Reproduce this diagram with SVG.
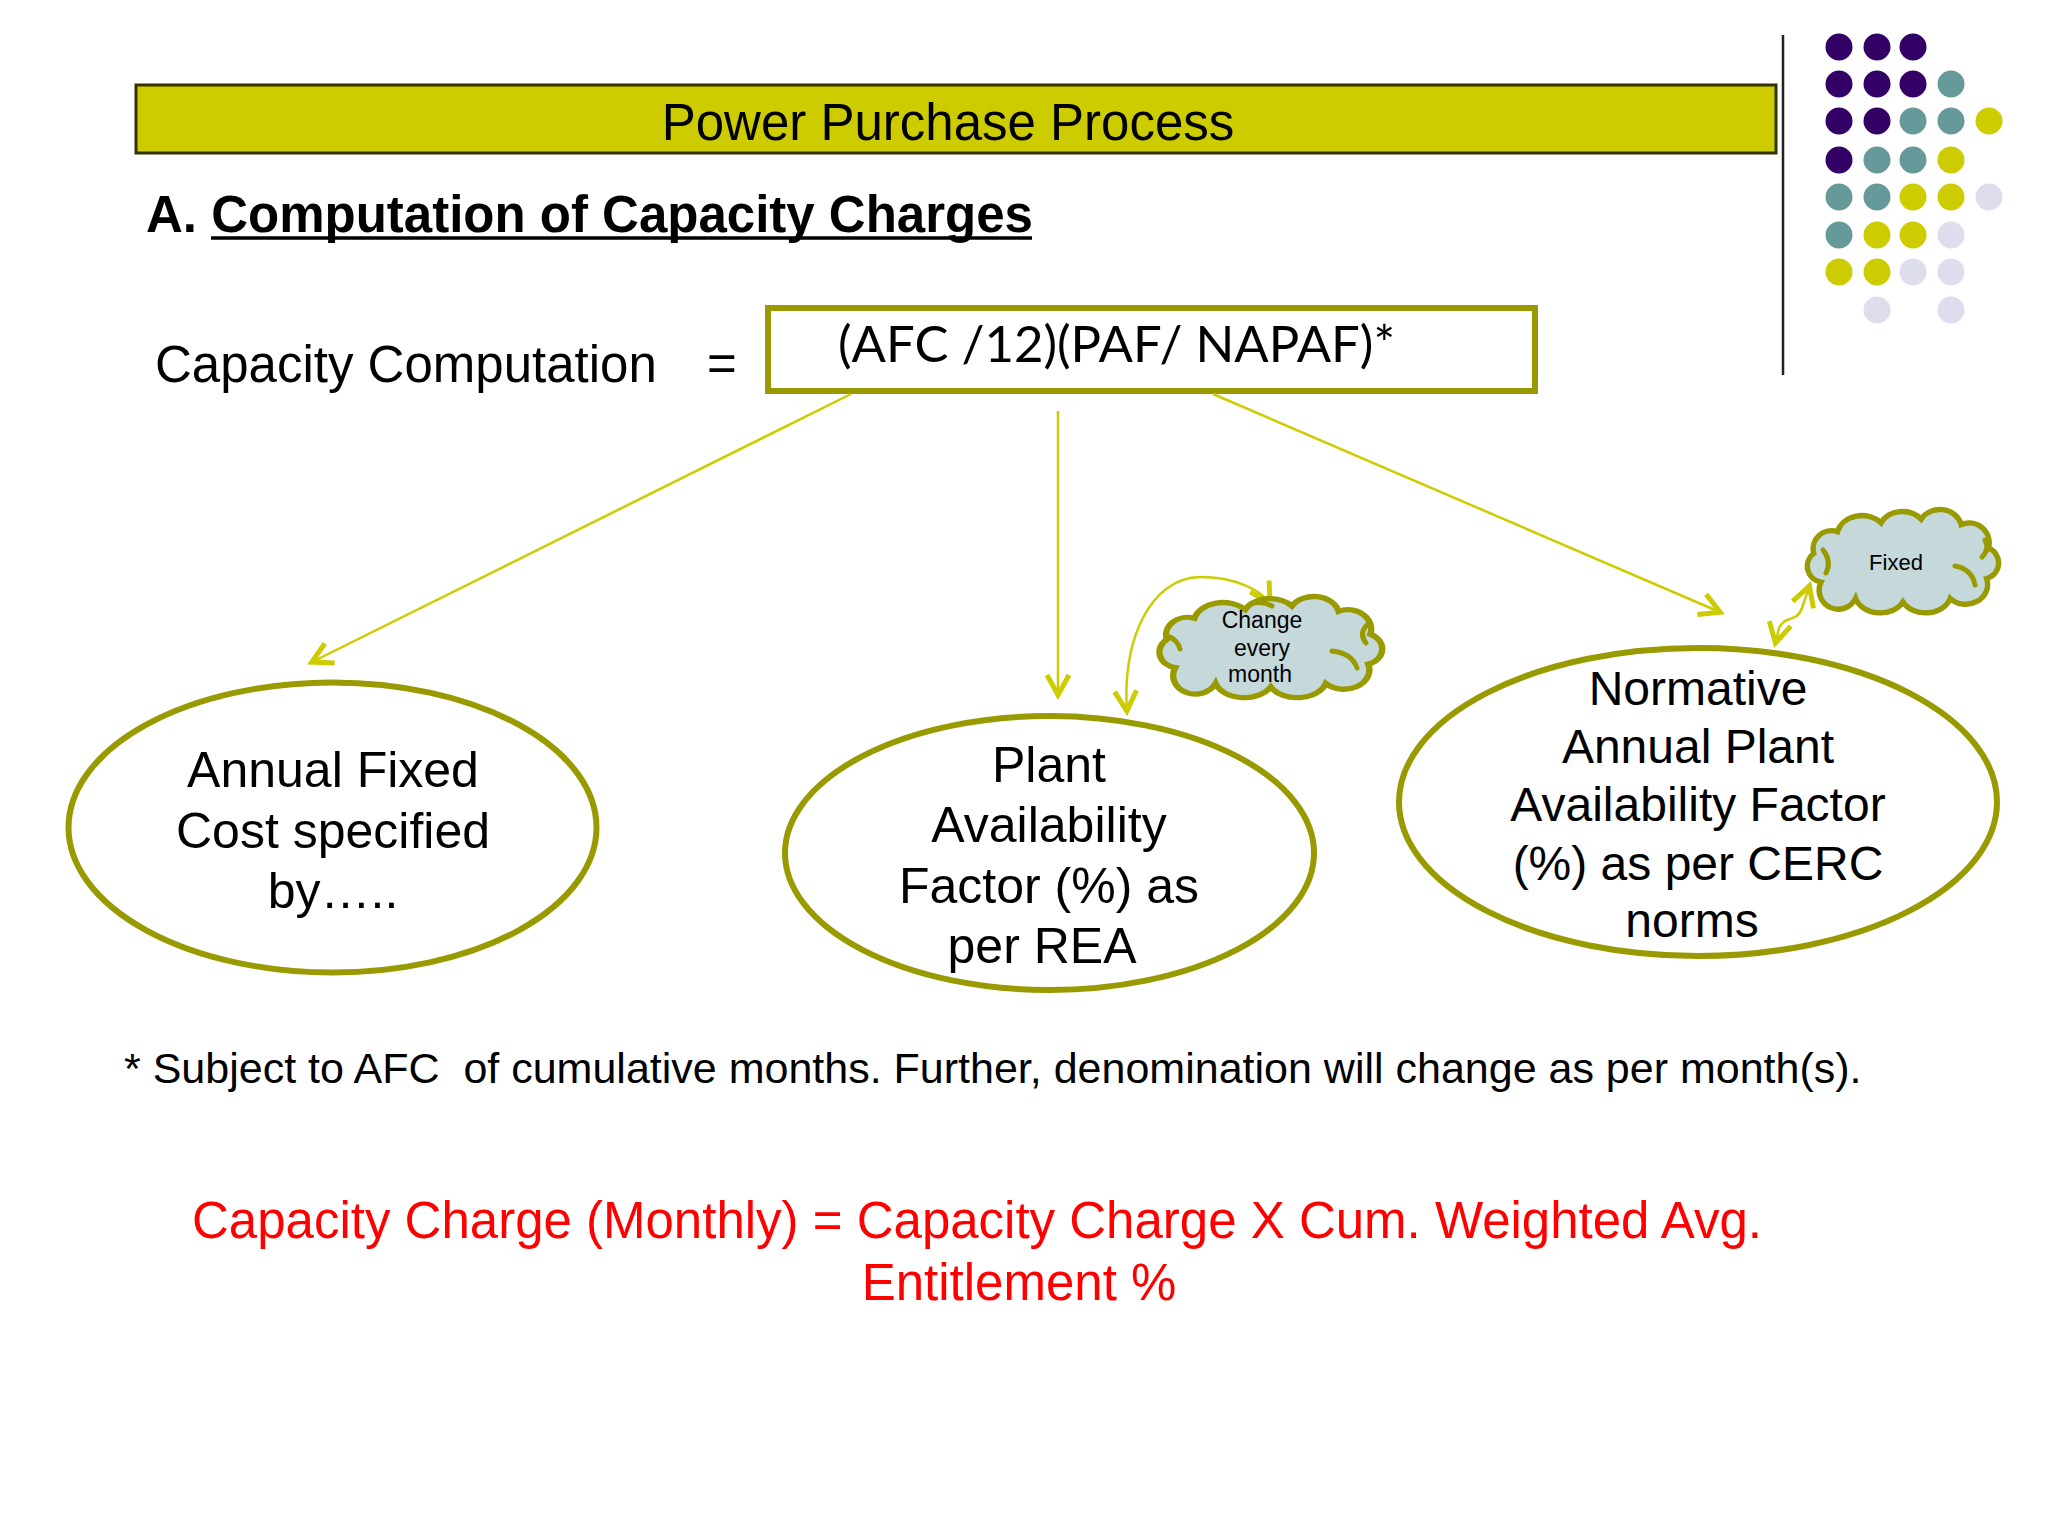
<svg xmlns="http://www.w3.org/2000/svg" xmlns:xlink="http://www.w3.org/1999/xlink" width="2048" height="1536" viewBox="0 0 2048 1536">
<style>
.sans{font-family:"Liberation Sans",Arial,sans-serif;fill:#000}
.ell{fill:#fff;stroke:#999900;stroke-width:6}
.conn{fill:none;stroke:#CCCC00;stroke-width:2.5}
.cloud{fill:#C6D9DA;stroke:#999900;stroke-width:6;vector-effect:non-scaling-stroke}
.crease{fill:none;stroke:#999900;stroke-width:5;stroke-linecap:round}
.p{fill:#330066}.t{fill:#669999}.y{fill:#CCCC00}.l{fill:#DDDDEE}
</style>
<defs>
<marker id="ah" markerUnits="userSpaceOnUse" markerWidth="40" markerHeight="40" viewBox="0 0 40 40" refX="27" refY="20" orient="auto-start-reverse">
<path d="M5,9 L25,20 L5,31" fill="none" stroke="#CCCC00" stroke-width="5"/>
</marker>
<path id="cloudShape" d="M22,78 A18,18 0 0 1 14,46 A20,20 0 0 1 40,22 A28,24 0 0 1 88,12 A26,22 0 0 1 132,8 A24,22 0 0 1 176,14 A22,22 0 0 1 206,40 A18,18 0 0 1 204,74 A24,22 0 0 1 164,96 A28,22 0 0 1 112,100 A28,22 0 0 1 60,96 A20,20 0 0 1 22,78 Z"/>
</defs>
<rect width="2048" height="1536" fill="#fff"/>

<g id="decor">
<line x1="1783" y1="35" x2="1783" y2="375" stroke="#222" stroke-width="2.5"/>
<circle class="p" cx="1839" cy="47" r="13.5"/><circle class="p" cx="1877" cy="47" r="13.5"/><circle class="p" cx="1913" cy="47" r="13.5"/>
<circle class="p" cx="1839" cy="84" r="13.5"/><circle class="p" cx="1877" cy="84" r="13.5"/><circle class="p" cx="1913" cy="84" r="13.5"/><circle class="t" cx="1951" cy="84" r="13.5"/>
<circle class="p" cx="1839" cy="121" r="13.5"/><circle class="p" cx="1877" cy="121" r="13.5"/><circle class="t" cx="1913" cy="121" r="13.5"/><circle class="t" cx="1951" cy="121" r="13.5"/><circle class="y" cx="1989" cy="121" r="13.5"/>
<circle class="p" cx="1839" cy="160" r="13.5"/><circle class="t" cx="1877" cy="160" r="13.5"/><circle class="t" cx="1913" cy="160" r="13.5"/><circle class="y" cx="1951" cy="160" r="13.5"/>
<circle class="t" cx="1839" cy="197" r="13.5"/><circle class="t" cx="1877" cy="197" r="13.5"/><circle class="y" cx="1913" cy="197" r="13.5"/><circle class="y" cx="1951" cy="197" r="13.5"/><circle class="l" cx="1989" cy="197" r="13.5"/>
<circle class="t" cx="1839" cy="235" r="13.5"/><circle class="y" cx="1877" cy="235" r="13.5"/><circle class="y" cx="1913" cy="235" r="13.5"/><circle class="l" cx="1951" cy="235" r="13.5"/>
<circle class="y" cx="1839" cy="272" r="13.5"/><circle class="y" cx="1877" cy="272" r="13.5"/><circle class="l" cx="1913" cy="272" r="13.5"/><circle class="l" cx="1951" cy="272" r="13.5"/>
<circle class="l" cx="1877" cy="310" r="13.5"/><circle class="l" cx="1951" cy="310" r="13.5"/>
</g>

<g id="title">
<rect x="136" y="85" width="1640" height="68" fill="#CCCC00" stroke="#333300" stroke-width="3"/>
<text class="sans" x="948" y="140" font-size="51" text-anchor="middle">Power Purchase Process</text>
</g>

<g id="heading">
<text class="sans" x="146" y="232" font-size="51" font-weight="bold">A. Computation of Capacity Charges</text>
<line x1="211" y1="238" x2="1032" y2="238" stroke="#000" stroke-width="3.5"/>
</g>

<g id="label-capacity">
<text class="sans" x="155" y="382" font-size="51">Capacity Computation</text>
<text class="sans" x="707" y="381" font-size="51">=</text>
</g>

<g id="formula">
<rect x="768" y="308" width="767" height="83" fill="#fff" stroke="#999900" stroke-width="6"/>
<text x="838" y="362" font-family="Lato,'Open Sans',sans-serif" font-size="51" textLength="557" lengthAdjust="spacingAndGlyphs" fill="#000">(AFC /12)(PAF/ NAPAF)*</text>
</g>

<g id="connectors">
<path class="conn" d="M851,394 L310,663" marker-end="url(#ah)"/>
<path class="conn" d="M1058,411 L1058,697" marker-end="url(#ah)"/>
<path class="conn" d="M1213,394 L1722,613" marker-end="url(#ah)"/>
<path class="conn" d="M1127,713 C1122,640 1150,578 1200,577 C1235,577 1262,590 1271,605" marker-start="url(#ah)" marker-end="url(#ah)"/>
<path class="conn" d="M1775,645 L1779,628 C1786,614 1796,624 1802,608 L1810,584" marker-start="url(#ah)" marker-end="url(#ah)"/>
</g>

<g id="node-afc">
<ellipse class="ell" cx="332.5" cy="827.5" rx="264" ry="145"/>
<text class="sans" font-size="50" text-anchor="middle"><tspan x="333" y="787">Annual Fixed</tspan><tspan x="333" y="848">Cost specified</tspan><tspan x="333" y="908">by…..</tspan></text>
</g>

<g id="node-paf">
<ellipse class="ell" cx="1049.5" cy="853" rx="264.5" ry="137"/>
<text class="sans" font-size="50" text-anchor="middle"><tspan x="1049" y="782">Plant</tspan><tspan x="1049" y="842">Availability</tspan><tspan x="1049" y="903">Factor (%) as</tspan><tspan x="1042" y="963">per REA</tspan></text>
</g>

<g id="node-napaf">
<ellipse class="ell" cx="1698" cy="802" rx="299" ry="154"/>
<text class="sans" font-size="48" text-anchor="middle"><tspan x="1698" y="705">Normative</tspan><tspan x="1698" y="763">Annual Plant</tspan><tspan x="1698" y="821">Availability Factor</tspan><tspan x="1698" y="880">(%) as per CERC</tspan><tspan x="1692" y="937">norms</tspan></text>
</g>

<g id="cloud-change">
<use xlink:href="#cloudShape" class="cloud" transform="translate(1152,599) scale(1.06,0.88)"/>
<path class="crease" d="M1368,624 Q1358,633 1366,643"/>
<path class="crease" d="M1332,651 Q1352,653 1357,668"/>
<path class="crease" d="M1170,637 Q1178,641 1180,649"/>
<path class="crease" d="M1250,604 Q1262,600 1272,606"/>
<text class="sans" font-size="23" text-anchor="middle"><tspan x="1262" y="628">Change</tspan><tspan x="1262" y="656">every</tspan><tspan x="1260" y="682">month</tspan></text>
</g>

<g id="cloud-fixed">
<use xlink:href="#cloudShape" class="cloud" transform="translate(1801,512) scale(0.91,0.9)"/>
<path class="crease" d="M1823,550 Q1832,561 1826,573"/>
<path class="crease" d="M1985,540 Q1990,549 1982,557"/>
<path class="crease" d="M1955,566 Q1972,569 1975,585"/>
<text class="sans" x="1896" y="570" font-size="22" text-anchor="middle">Fixed</text>
</g>

<g id="footnote">
<text class="sans" x="124" y="1083" font-size="43" xml:space="preserve">* Subject to AFC  of cumulative months. Further, denomination will change as per month(s).</text>
</g>

<g id="result">
<text font-family="'Liberation Sans',Arial,sans-serif" font-size="51" fill="#FF0000"><tspan x="192" y="1238">Capacity Charge (Monthly) = Capacity Charge X Cum. Weighted Avg.</tspan><tspan x="1019" y="1300" text-anchor="middle">Entitlement %</tspan></text>
</g>
</svg>
